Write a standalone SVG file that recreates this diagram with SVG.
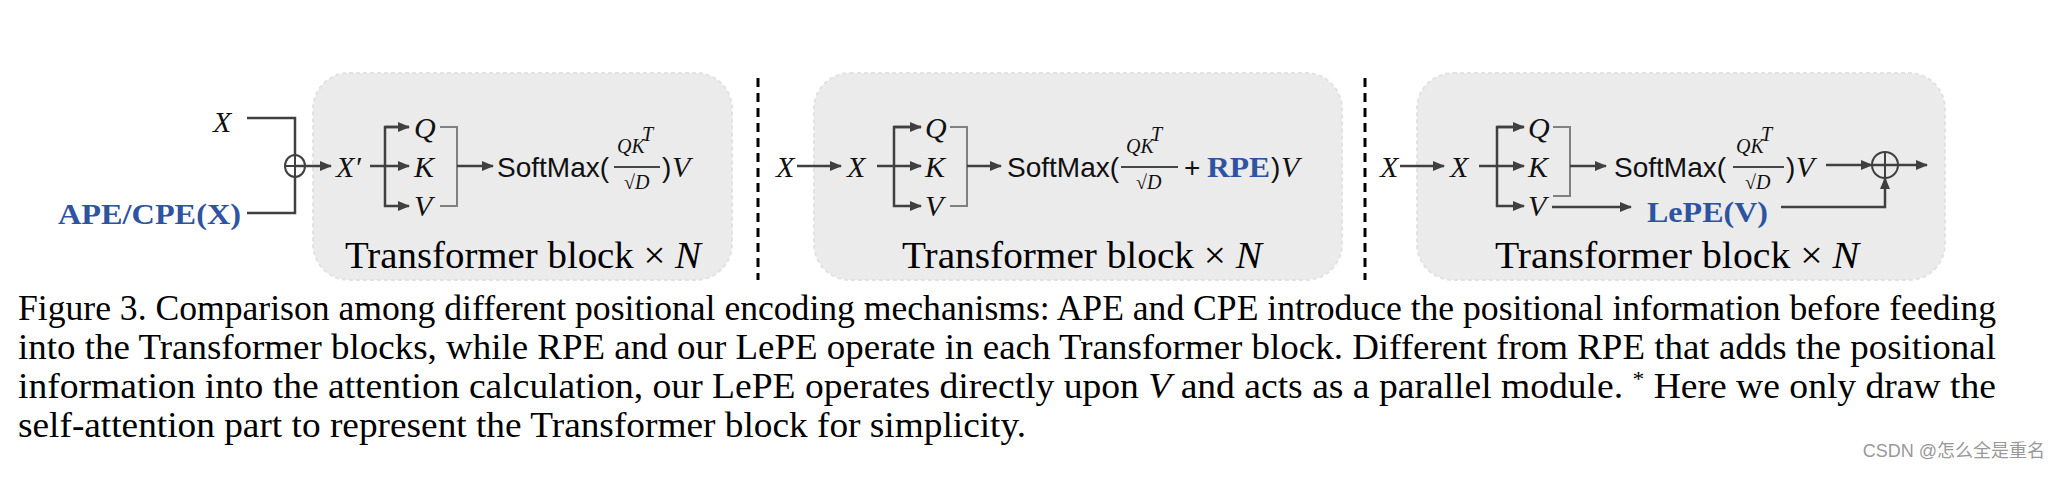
<svg xmlns="http://www.w3.org/2000/svg" width="2052" height="477" viewBox="0 0 2052 477">
<style>
.box{fill:#ebebeb;stroke:#e2e2e2;stroke-width:2;stroke-dasharray:4 3}
.ln{fill:none;stroke:#404040;stroke-width:2.5}
.br{fill:none;stroke:#808080;stroke-width:2}
.sep{stroke:#000;stroke-width:3;stroke-dasharray:9 6}
.m{font-family:"Liberation Serif",serif;font-style:italic;font-size:30px;fill:#111}
.ms{font-family:"Liberation Serif",serif;font-style:italic;font-size:20px;fill:#111}
.sf{font-family:"Liberation Sans",sans-serif;font-size:28px;fill:#111}
.tb{font-family:"Liberation Serif",serif;font-size:37px;fill:#000}
.bl{font-family:"Liberation Serif",serif;font-weight:bold;font-size:30px;fill:#2e54a1}
.cap{font-family:"Liberation Serif",serif;font-size:35px;fill:#000}
</style>
<defs>
<marker id="a" markerWidth="12" markerHeight="10" refX="11" refY="5" orient="auto" markerUnits="userSpaceOnUse"><path d="M0,0 L12,5 L0,10 Z" fill="#404040"/></marker>
</defs>
<rect width="2052" height="477" fill="#fff"/>
<line class="sep" x1="758" y1="78" x2="758" y2="280"/>
<line class="sep" x1="1365" y1="78" x2="1365" y2="280"/>

<g id="block1">
<rect class="box" x="313" y="73" width="419" height="207" rx="36"/>
<text class="tb" x="345" y="268" textLength="356" lengthAdjust="spacingAndGlyphs">Transformer block × <tspan font-style="italic">N</tspan></text>
</g>
<g id="block2">
<rect class="box" x="814" y="73" width="528" height="207" rx="36"/>
<text class="tb" x="902" y="268" textLength="360" lengthAdjust="spacingAndGlyphs">Transformer block × <tspan font-style="italic">N</tspan></text>
</g>
<g id="block3">
<rect class="box" x="1417" y="73" width="528" height="207" rx="36"/>
<text class="tb" x="1495" y="268" textLength="364" lengthAdjust="spacingAndGlyphs">Transformer block × <tspan font-style="italic">N</tspan></text>
</g>

<g id="inputs1">
<text class="m" x="213" y="132">X</text>
<text class="bl" x="58" y="224" textLength="183" lengthAdjust="spacingAndGlyphs">APE/CPE(X)</text>
<text class="m" x="336" y="177">X′</text>
</g>
<g id="add1">
<ellipse cx="295" cy="166" rx="10" ry="11" fill="none" stroke="#404040" stroke-width="2"/>
<line x1="285" y1="166" x2="305" y2="166" stroke="#404040" stroke-width="2"/>
<line x1="295" y1="155" x2="295" y2="177" stroke="#404040" stroke-width="2"/>
</g>
<g id="qkv1">
<text class="m" x="414" y="138">Q</text>
<text class="m" x="414" y="177">K</text>
<text class="m" x="414" y="216">V</text>
</g>
<g id="attn1">
<text class="sf" x="497" y="177">SoftMax(</text>
<text class="ms" x="617" y="153">QK</text><text class="ms" x="642" y="141" font-size="15">T</text>
<line x1="614" y1="167" x2="660" y2="167" stroke="#111" stroke-width="1.5"/>
<text class="ms" x="624" y="189">√D</text>
<text class="sf" x="662" y="177">)</text><text class="m" x="672" y="177">V</text>
</g>

<g id="inputs2">
<text class="m" x="776" y="177">X</text>
<text class="m" x="847" y="177">X</text>
</g>
<g id="qkv2">
<text class="m" x="925" y="138">Q</text>
<text class="m" x="925" y="177">K</text>
<text class="m" x="925" y="216">V</text>
</g>
<g id="attn2">
<text class="sf" x="1007" y="177">SoftMax(</text>
<text class="ms" x="1126" y="153">QK</text><text class="ms" x="1151" y="141" font-size="15">T</text>
<line x1="1121" y1="167" x2="1178" y2="167" stroke="#111" stroke-width="1.5"/>
<text class="ms" x="1136" y="189">√D</text>
<text class="sf" x="1184" y="177">+</text>
<text class="bl" x="1207" y="177" textLength="63" lengthAdjust="spacingAndGlyphs">RPE</text>
<text class="sf" x="1271" y="177">)</text><text class="m" x="1281" y="177">V</text>
</g>

<g id="inputs3">
<text class="m" x="1380" y="177">X</text>
<text class="m" x="1450" y="177">X</text>
</g>
<g id="qkv3">
<text class="m" x="1528" y="138">Q</text>
<text class="m" x="1528" y="177">K</text>
<text class="m" x="1528" y="216">V</text>
</g>
<g id="attn3">
<text class="sf" x="1614" y="177">SoftMax(</text>
<text class="ms" x="1736" y="153">QK</text><text class="ms" x="1761" y="141" font-size="15">T</text>
<line x1="1733" y1="167" x2="1784" y2="167" stroke="#111" stroke-width="1.5"/>
<text class="ms" x="1745" y="189">√D</text>
<text class="sf" x="1786" y="177">)</text><text class="m" x="1796" y="177">V</text>
</g>
<g id="lepe3">
<text class="bl" x="1647" y="222" textLength="121" lengthAdjust="spacingAndGlyphs">LePE(V)</text>
</g>
<g id="add3">
<ellipse cx="1885" cy="165" rx="13" ry="13" fill="none" stroke="#404040" stroke-width="2"/>
<line x1="1885" y1="152" x2="1885" y2="178" stroke="#404040" stroke-width="2"/>
</g>

<g id="connectors">
<path class="ln" d="M247,118 H295 V155"/>
<path class="ln" d="M247,213 H295 V177"/>
<line class="ln" x1="295" y1="166" x2="331" y2="166" marker-end="url(#a)"/>
<path class="ln" d="M370,166 H409" marker-end="url(#a)"/>
<path class="ln" d="M409,127 H385 V206 H409" marker-end="url(#a)"/>
<line class="ln" x1="385" y1="127" x2="409" y2="127" marker-end="url(#a)"/>
<path class="br" d="M440,127 H457 V206 H440"/>
<line class="ln" x1="457" y1="166" x2="493" y2="166" marker-end="url(#a)"/>

<line class="ln" x1="797" y1="166" x2="841" y2="166" marker-end="url(#a)"/>
<line class="ln" x1="877" y1="166" x2="921" y2="166" marker-end="url(#a)"/>
<path class="ln" d="M921,127 H894 V206 H921" marker-end="url(#a)"/>
<line class="ln" x1="894" y1="127" x2="921" y2="127" marker-end="url(#a)"/>
<path class="br" d="M950,127 H967 V206 H950"/>
<line class="ln" x1="967" y1="166" x2="1001" y2="166" marker-end="url(#a)"/>

<line class="ln" x1="1400" y1="166" x2="1444" y2="166" marker-end="url(#a)"/>
<line class="ln" x1="1479" y1="166" x2="1524" y2="166" marker-end="url(#a)"/>
<path class="ln" d="M1524,127 H1497 V206 H1524" marker-end="url(#a)"/>
<line class="ln" x1="1497" y1="127" x2="1524" y2="127" marker-end="url(#a)"/>
<path class="br" d="M1553,127 H1570 V196 H1553"/>
<line class="ln" x1="1570" y1="166" x2="1606" y2="166" marker-end="url(#a)"/>
<line class="ln" x1="1552" y1="207" x2="1631" y2="207" marker-end="url(#a)"/>
<line class="ln" x1="1826" y1="165" x2="1872" y2="165" marker-end="url(#a)"/>
<line class="ln" x1="1872" y1="165" x2="1927" y2="165" marker-end="url(#a)"/>
<path class="ln" d="M1781,207 H1885 V178" marker-end="url(#a)"/>
</g>

<g id="caption">
<text class="cap" x="18" y="320" textLength="1978" lengthAdjust="spacingAndGlyphs">Figure 3. Comparison among different positional encoding mechanisms: APE and CPE introduce the positional information before feeding</text>
<text class="cap" x="18" y="359" textLength="1978" lengthAdjust="spacingAndGlyphs">into the Transformer blocks, while RPE and our LePE operate in each Transformer block.  Different from RPE that adds the positional</text>
<text class="cap" x="18" y="398" textLength="1978" lengthAdjust="spacingAndGlyphs">information into the attention calculation, our LePE operates directly upon <tspan font-style="italic">V</tspan> and acts as a parallel module.  <tspan font-size="22" dy="-12">*</tspan><tspan dy="12"> Here we only draw the</tspan></text>
<text class="cap" x="18" y="437" textLength="1008" lengthAdjust="spacingAndGlyphs">self-attention part to represent the Transformer block for simplicity.</text>
<text x="2045" y="457" text-anchor="end" font-family="Liberation Sans,Noto Sans CJK SC,sans-serif" font-size="18" fill="#999">CSDN @怎么全是重名</text>
</g>
</svg>
